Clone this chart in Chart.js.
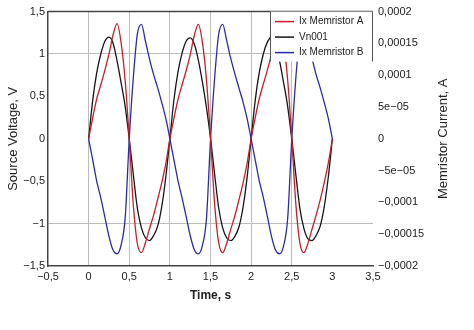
<!DOCTYPE html>
<html>
<head>
<meta charset="utf-8">
<script src="https://cdn.jsdelivr.net/npm/chart.js@4/dist/chart.umd.min.js"></script>
<style>
	body{margin:0;background:#fff;}
	#wrap{width:474px;height:330px;}
</style>
</head>
<body>
<div id="wrap"><canvas id="memristor-chart" width="474" height="330"></canvas></div>
<script>
// sample times, s
var time = [
	0, 0.05, 0.1, 0.15, 0.2, 0.25, 0.3, 0.35, 0.4, 0.45,
	0.5, 0.55, 0.6, 0.65, 0.7, 0.75, 0.8, 0.85, 0.9, 0.95,
	1, 1.05, 1.1, 1.15, 1.2, 1.25, 1.3, 1.35, 1.4, 1.45,
	1.5, 1.55, 1.6, 1.65, 1.7, 1.75, 1.8, 1.85, 1.9, 1.95,
	2, 2.05, 2.1, 2.15, 2.2, 2.25, 2.3, 2.35, 2.4, 2.45,
	2.5, 2.55, 2.6, 2.65, 2.7, 2.75, 2.8, 2.85, 2.9, 2.95,
	3
];

// source voltage, V
var vn001 = [
	0, 0.45, 0.78, 1.0, 1.15, 1.2, 1.13, 0.92, 0.66, 0.38,
	0, -0.42, -0.82, -1.05, -1.17, -1.2, -1.14, -1.03, -0.8, -0.45,
	0, 0.46, 0.79, 1.01, 1.15, 1.19, 1.12, 0.93, 0.67, 0.37,
	0.01, -0.41, -0.81, -1.05, -1.17, -1.2, -1.15, -1.04, -0.81, -0.46,
	0, 0.45, 0.78, 1.0, 1.14, 1.2, 1.13, 0.92, 0.66, 0.38,
	0, -0.42, -0.82, -1.06, -1.18, -1.2, -1.14, -1.03, -0.8, -0.45,
	0
];

// memristor currents, A
var ixA = [
	0, 3.3e-5, 6.3e-5, 8.5e-5, 10.8e-5, 13.3e-5, 16.3e-5, 18.1e-5, 15.1e-5, 9.1e-5,
	0, -10.4e-5, -16.5e-5, -17.9e-5, -16.3e-5, -14.1e-5, -12.0e-5, -9.5e-5, -6.9e-5, -3.9e-5,
	0, 3.2e-5, 6.2e-5, 8.5e-5, 10.7e-5, 13.2e-5, 16.2e-5, 18.0e-5, 15.2e-5, 9.3e-5,
	0.2e-5, -10.1e-5, -16.3e-5, -17.9e-5, -16.4e-5, -14.2e-5, -12.1e-5, -9.6e-5, -7.0e-5, -3.9e-5,
	0, 3.3e-5, 6.3e-5, 8.6e-5, 10.8e-5, 13.3e-5, 16.2e-5, 18.1e-5, 15.2e-5, 9.2e-5,
	0.1e-5, -10.2e-5, -16.4e-5, -17.9e-5, -16.4e-5, -14.2e-5, -12.0e-5, -9.6e-5, -6.9e-5, -3.8e-5,
	0
];

var ixB = [
	0, -3.3e-5, -6.7e-5, -9.3e-5, -12.3e-5, -15.3e-5, -17.5e-5, -18.1e-5, -16.7e-5, -12.4e-5,
	0, 9.6e-5, 16.5e-5, 18.0e-5, 15.3e-5, 12.5e-5, 10.1e-5, 8.0e-5, 5.7e-5, 3.2e-5,
	0, -3.3e-5, -6.6e-5, -9.3e-5, -12.2e-5, -15.2e-5, -17.4e-5, -18.1e-5, -16.8e-5, -12.6e-5,
	-0.2e-5, 9.4e-5, 16.4e-5, 18.0e-5, 15.4e-5, 12.6e-5, 10.2e-5, 8.0e-5, 5.8e-5, 3.2e-5,
	0, -3.3e-5, -6.6e-5, -9.2e-5, -12.2e-5, -15.3e-5, -17.5e-5, -18.1e-5, -16.8e-5, -12.5e-5,
	-0.1e-5, 9.5e-5, 16.4e-5, 18.0e-5, 15.4e-5, 12.6e-5, 10.1e-5, 8.0e-5, 5.7e-5, 3.2e-5,
	0
];

var seriesNames = ["Ix Memristor A", "Vn001", "Ix Memristor B"];
var seriesColors = ["#c41e2a", "#151515", "#2b2ba6"];

// tick labels, bottom/left to top/right
var xTickLabels = ["\u22120,5", "0", "0,5", "1", "1,5", "2", "2,5", "3", "3,5"];
var voltTickLabels = ["\u22121,5", "\u22121", "\u22120,5", "0", "0,5", "1", "1,5"];
var currTickLabels = ["\u22120,0002", "\u22120,00015", "\u22120,0001", "\u22125e\u221205", "0",
	"5e\u221205", "0,0001", "0,00015", "0,0002"];

function points(ys){
	var out = [];
	for(var i in time){
		out.push({x: time[i], y: ys[i]});
	}
	return out;
}

var FONT = '"Liberation Sans", Arial, sans-serif';
var GRID = "#bcbcbc";
var AXIS = "#444444";

// top frame, legend box and right axis title
var decor = {
	id: "decor",
	afterDraw: function(chart){
		var ctx = chart.ctx;
		var a = chart.chartArea;
		ctx.save();

		ctx.strokeStyle = AXIS;
		ctx.lineWidth = 1.5;
		ctx.beginPath();
		ctx.moveTo(a.left, a.top);
		ctx.lineTo(a.right, a.top);
		ctx.stroke();

		// legend: white panel, side edges only
		var bw = 103, bh = 50;
		var bx = a.right - bw, by = a.top;
		ctx.fillStyle = "#ffffff";
		ctx.fillRect(bx, by, bw, bh);
		ctx.strokeStyle = "#555555";
		ctx.lineWidth = 1;
		ctx.beginPath();
		ctx.moveTo(bx + 0.5, by);
		ctx.lineTo(bx + 0.5, by + bh);
		ctx.moveTo(bx + bw - 0.5, by);
		ctx.lineTo(bx + bw - 0.5, by + bh);
		ctx.stroke();

		ctx.font = "10px " + FONT;
		ctx.textBaseline = "middle";
		ctx.textAlign = "left";
		for(var i = 0; i < seriesNames.length; i++){
			var ly = by + 10 + i * 15.5;
			ctx.strokeStyle = seriesColors[i];
			ctx.lineWidth = 1.5;
			ctx.beginPath();
			ctx.moveTo(bx + 5, ly);
			ctx.lineTo(bx + 24, ly);
			ctx.stroke();
			ctx.fillStyle = "#222222";
			ctx.fillText(seriesNames[i], bx + 29, ly);
		}

		ctx.translate(443, (a.top + a.bottom) / 2);
		ctx.rotate(-Math.PI / 2);
		ctx.font = "13px " + FONT;
		ctx.textAlign = "center";
		ctx.fillStyle = "#222222";
		ctx.fillText("Memristor Current, A", 0, 0);
		ctx.restore();
	}
};

var datasets = [];
var seriesData = [ixA, vn001, ixB];
var seriesAxis = ["y2", "y", "y2"];
for(var k = 0; k < seriesNames.length; k++){
	datasets.push({
		label: seriesNames[k],
		data: points(seriesData[k]),
		yAxisID: seriesAxis[k],
		borderColor: seriesColors[k],
		borderWidth: 1.3,
		pointRadius: 0,
		fill: false,
		cubicInterpolationMode: "monotone"
	});
}

Chart.defaults.font.family = FONT;
Chart.defaults.color = "#222222";

var chart = new Chart(document.getElementById("memristor-chart"), {
	type: "line",
	data: {datasets: datasets},
	plugins: [decor],
	options: {
		responsive: false,
		animation: false,
		devicePixelRatio: 1,
		layout: {padding: {top: 8, left: 0, right: 0, bottom: 0}},
		plugins: {legend: {display: false}, tooltip: {enabled: false}},
		scales: {
			x: {
				type: "linear",
				min: -0.5,
				max: 3.5,
				ticks: {
					stepSize: 0.5,
					padding: 4,
					font: {size: 11},
					maxRotation: 0,
					callback: function(v, i){ return xTickLabels[i]; }
				},
				grid: {
					drawTicks: false,
					color: function(c){
						var v = c.tick ? c.tick.value : null;
						return (v !== null && v >= 0 && v <= 2.5) ? GRID : "rgba(0,0,0,0)";
					}
				},
				border: {color: AXIS, width: 1.5},
				title: {display: true, text: "Time, s", font: {size: 12, weight: "bold"}, padding: {top: 0, bottom: 27}},
				afterFit: function(s){ s.height = 64; }
			},
			y: {
				position: "left",
				min: -1.5,
				max: 1.5,
				ticks: {
					stepSize: 0.5,
					padding: 3,
					font: {size: 11},
					callback: function(v, i){ return voltTickLabels[i]; }
				},
				grid: {
					drawTicks: false,
					color: function(c){
						var v = c.tick ? c.tick.value : null;
						return (v === 1 || v === -1) ? GRID : "rgba(0,0,0,0)";
					}
				},
				border: {color: AXIS, width: 1.5},
				title: {display: true, text: "Source Voltage, V", font: {size: 13}, padding: {top: 6, bottom: 0}},
				afterFit: function(s){ s.width = 48; }
			},
			y2: {
				position: "right",
				min: -0.0002,
				max: 0.0002,
				ticks: {
					stepSize: 0.00005,
					padding: 5,
					font: {size: 11},
					callback: function(v){ return currTickLabels[Math.round(v / 0.00005) + 4]; }
				},
				grid: {display: false, drawTicks: false},
				border: {display: false},
				afterFit: function(s){ s.width = 101; }
			}
		}
	}
});
</script>
</body>
</html>
